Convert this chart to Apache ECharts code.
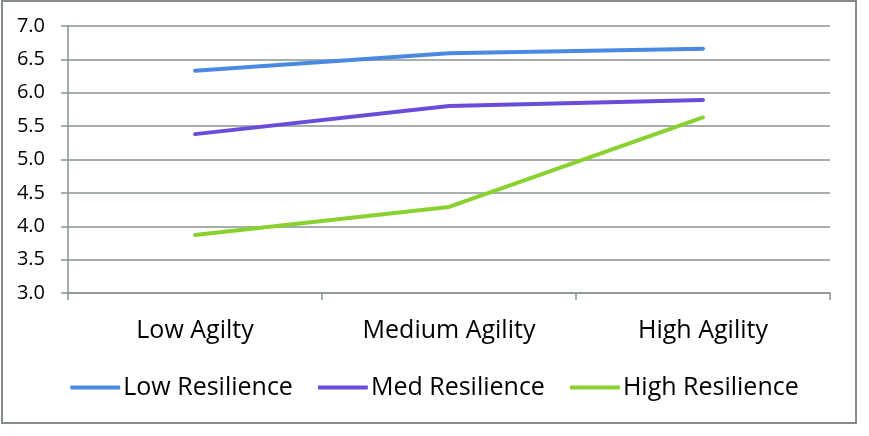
<!DOCTYPE html>
<html><head><meta charset="utf-8">
<script src="https://cdn.jsdelivr.net/npm/echarts@6/dist/echarts.min.js"></script>
<style>html,body{margin:0;padding:0;background:#fff}#c{width:869px;height:436px}</style>
</head><body><div id="c"></div>
<script>
const categories = ['Low Agilty', 'Medium Agility', 'High Agility'];
const lowResilience = [6.33, 6.59, 6.66];
const medResilience = [5.38, 5.80, 5.89];
const highResilience = [3.87, 4.29, 5.63];
const yTicks = { min: 3, max: 7, interval: 0.5 };

const FONT = 'Open Sans';
const gridColor = '#8a9393';
const chart = echarts.init(document.getElementById('c'), null, { renderer: 'canvas' });
const mk = (name, data, color) => ({
  name, type: 'line', data, symbol: 'none',
  lineStyle: { width: 4, color, cap: 'round' }, itemStyle: { color }
});
chart.setOption({
  animation: false,
  graphic: [{ type: 'rect', shape: { x: 2, y: 1, width: 854, height: 422 },
    style: { fill: 'none', stroke: '#868c8c', lineWidth: 2 }, silent: true }],
  grid: { left: 68, right: 39, top: 26, bottom: 143 },
  legend: {
    bottom: 31, left: 'center', itemWidth: 50, itemHeight: 4, itemGap: 25,
    icon: 'roundRect',
    textStyle: { fontFamily: FONT, fontSize: 25, color: '#000', padding: [0, 0, 0, -2] },
    data: ['Low Resilience', 'Med Resilience', 'High Resilience']
  },
  xAxis: {
    type: 'category', data: categories, boundaryGap: true,
    axisLine: { lineStyle: { color: gridColor, width: 1.5 } },
    axisTick: { show: true, length: 7, alignWithLabel: false, lineStyle: { color: gridColor, width: 1.5 } },
    axisLabel: { fontFamily: FONT, fontSize: 25, color: '#000', margin: 25 }
  },
  yAxis: {
    type: 'value', min: yTicks.min, max: yTicks.max, interval: yTicks.interval,
    axisLine: { show: true, lineStyle: { color: gridColor, width: 1.5 } },
    axisTick: { show: true, length: 7, lineStyle: { color: gridColor, width: 1.5 } },
    splitLine: { lineStyle: { color: gridColor, width: 1.5 } },
    axisLabel: { fontFamily: FONT, fontSize: 20, color: '#000', margin: 23,
      formatter: v => v.toFixed(1) }
  },
  series: [
    mk('Low Resilience', lowResilience, '#4a89e2'),
    mk('Med Resilience', medResilience, '#6a4cdb'),
    mk('High Resilience', highResilience, '#88d12e')
  ]
});
</script></body></html>
